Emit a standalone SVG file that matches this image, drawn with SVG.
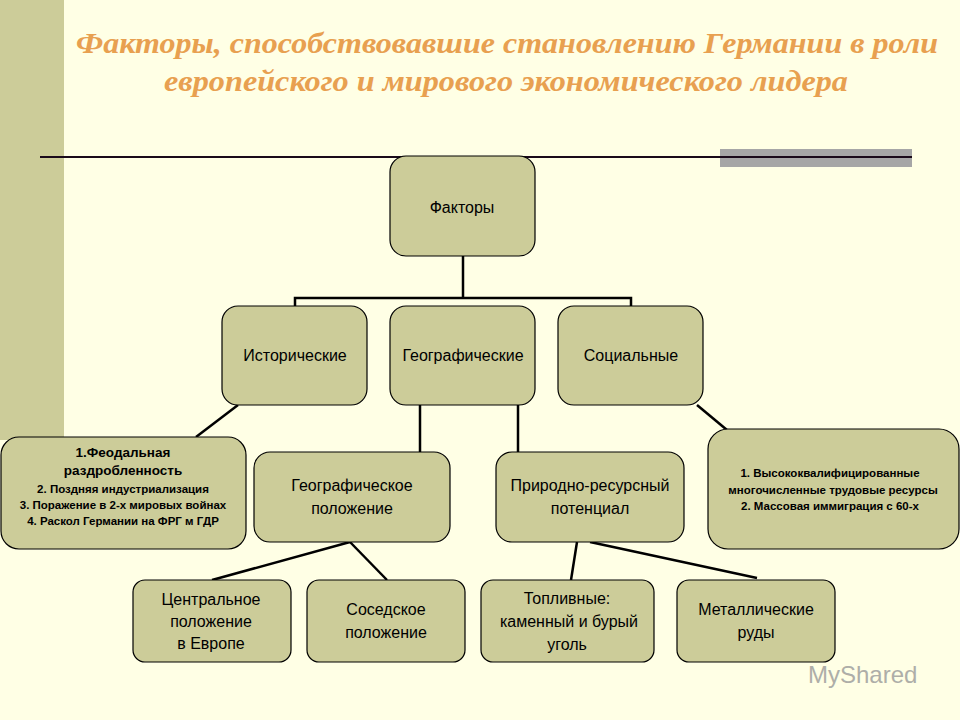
<svg xmlns="http://www.w3.org/2000/svg" width="960" height="720" viewBox="0 0 960 720">
<style>
.n{fill:#CCCC99;stroke:#000;stroke-width:1.2}
.t{font-family:"Liberation Sans",Arial,sans-serif;font-size:16px;fill:#000;text-anchor:middle}
.s{font-family:"Liberation Sans",Arial,sans-serif;font-size:11.5px;font-weight:bold;fill:#000;text-anchor:middle}
.c{stroke:#000;stroke-width:2.5;fill:none}
</style>
<rect width="960" height="720" fill="#FFFFE5"/>
<rect x="0" y="0" width="64" height="440" fill="#CCCC99"/>
<rect x="720" y="149" width="192" height="18" fill="#A6A6A6"/>
<line x1="40" y1="157" x2="912" y2="157" stroke="#1A0A1A" stroke-width="2"/>
<text font-family="'Liberation Serif','Times New Roman',serif" font-size="30" font-style="italic" font-weight="bold" fill="#E8A050" text-anchor="middle" lengthAdjust="spacingAndGlyphs"><tspan x="507" y="53" textLength="862" lengthAdjust="spacingAndGlyphs">Факторы, способствовавшие  становлению Германии в роли</tspan><tspan x="506" y="91" textLength="684" lengthAdjust="spacingAndGlyphs">европейского и мирового экономического лидера</tspan></text>
<g id="connectors">
<line class="c" x1="463" y1="256" x2="463" y2="298" stroke-width="5"/>
<polyline class="c" points="295,306 295,298 631,298 631,306" stroke-width="5"/>
<line class="c" x1="238" y1="405" x2="196" y2="437"/>
<line class="c" x1="420" y1="405" x2="420" y2="452"/>
<line class="c" x1="518" y1="405" x2="518" y2="452"/>
<line class="c" x1="697" y1="405" x2="727" y2="430"/>
<line class="c" x1="350" y1="542" x2="212" y2="580"/>
<line class="c" x1="350" y1="542" x2="387" y2="580"/>
<line class="c" x1="577" y1="542" x2="571" y2="580"/>
<line class="c" x1="590" y1="542" x2="757" y2="578"/>
</g>
<g id="n-root"><rect class="n" x="390" y="156" width="145" height="100" rx="16"/><text class="t" x="462" y="213">Факторы</text></g>
<g id="n-hist"><rect class="n" x="222" y="306" width="145" height="99" rx="16"/><text class="t" x="295" y="361">Исторические</text></g>
<g id="n-geo"><rect class="n" x="390" y="306" width="145" height="99" rx="16"/><text class="t" x="463" y="361">Географические</text></g>
<g id="n-soc"><rect class="n" x="558" y="306" width="145" height="99" rx="16"/><text class="t" x="631" y="361">Социальные</text></g>
<g id="n-histlist"><rect class="n" x="1" y="437" width="245" height="112" rx="18"/>
<text class="s" style="font-size:13.5px"><tspan x="123" y="457">1.Феодальная</tspan><tspan x="123" y="475">раздробленность</tspan></text>
<text class="s"><tspan x="123" y="493">2.  Поздняя индустриализация</tspan><tspan x="123" y="509">3. Поражение  в 2-х мировых войнах</tspan><tspan x="123" y="525">4. Раскол Германии на ФРГ м ГДР</tspan></text></g>
<g id="n-geopos"><rect class="n" x="254" y="452" width="196" height="90" rx="16"/><text class="t"><tspan x="352" y="491">Географическое</tspan><tspan x="352" y="514">положение</tspan></text></g>
<g id="n-nat"><rect class="n" x="496" y="452" width="188" height="90" rx="16"/><text class="t"><tspan x="590" y="491">Природно-ресурсный</tspan><tspan x="590" y="514">потенциал</tspan></text></g>
<g id="n-soclist"><rect class="n" x="708" y="429" width="251" height="120" rx="20"/>
<text class="s"><tspan x="830" y="477">1. Высококвалифицированные</tspan><tspan x="833" y="494">многочисленные  трудовые  ресурсы</tspan><tspan x="830" y="510">2. Массовая  иммиграция  с 60-х</tspan></text></g>
<g id="n-central"><rect class="n" x="133" y="580" width="158" height="82" rx="12"/><text class="t"><tspan x="211" y="605">Центральное</tspan><tspan x="211" y="627">положение</tspan><tspan x="211" y="649">в Европе</tspan></text></g>
<g id="n-neigh"><rect class="n" x="307" y="580" width="158" height="82" rx="12"/><text class="t"><tspan x="386" y="615">Соседское</tspan><tspan x="386" y="638">положение</tspan></text></g>
<g id="n-fuel"><rect class="n" x="481" y="580" width="173" height="82" rx="12"/><text class="t"><tspan x="567" y="604">Топливные:</tspan><tspan x="569" y="627">каменный и бурый</tspan><tspan x="567" y="650">уголь</tspan></text></g>
<g id="n-metal"><rect class="n" x="677" y="580" width="158" height="82" rx="12"/><text class="t"><tspan x="756" y="615">Металлические</tspan><tspan x="756" y="638">руды</tspan></text></g>
<text x="808" y="683" font-family="'Liberation Sans',Arial,sans-serif" font-size="24" fill="#9A9A9A" opacity="0.8">MyShared</text>
</svg>
